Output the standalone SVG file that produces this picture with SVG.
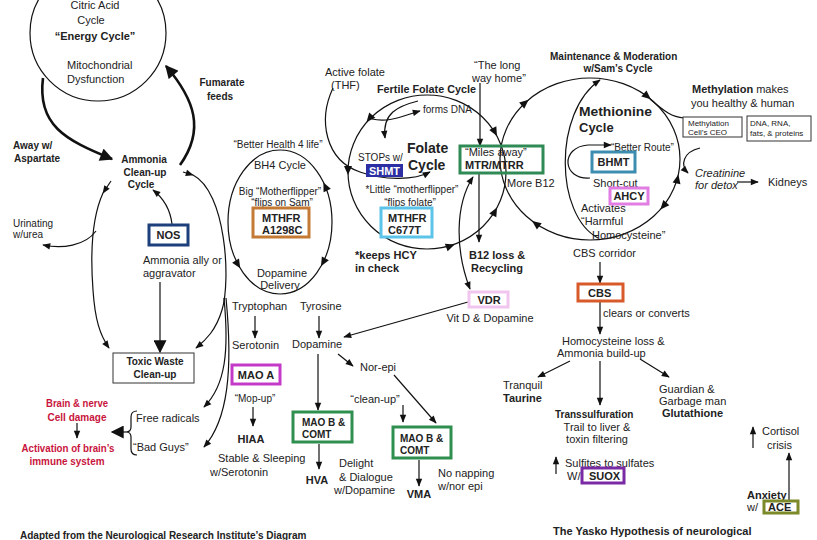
<svg xmlns="http://www.w3.org/2000/svg" width="817" height="540" viewBox="0 0 817 540">
<style>
text{font-family:"Liberation Sans",Arial,sans-serif;fill:#222;font-size:11px}
.b{font-weight:bold}
.s{font-size:10px}
.xs{font-size:8px}
.lg{font-size:14px;font-weight:bold}
.mg{font-size:13px;font-weight:bold}
.c{text-anchor:middle}
.i{font-style:italic}
.red{fill:#c8143c;font-weight:bold;font-size:10px}
.ln{fill:none;stroke:#111;stroke-width:1.2}
.th{fill:none;stroke:#111;stroke-width:2.6}
.bx{fill:#fff;stroke-width:3}
.tb{fill:#fff;stroke:#333;stroke-width:1}
</style>
<defs>
<marker id="a" viewBox="0 0 10 10" refX="9" refY="5" markerWidth="9" markerHeight="8" markerUnits="userSpaceOnUse" orient="auto-start-reverse"><path d="M0,1 L10,5 L0,9 Z" fill="#111"/></marker>
<marker id="A" viewBox="0 0 10 10" refX="9" refY="5" markerWidth="14" markerHeight="13" markerUnits="userSpaceOnUse" orient="auto"><path d="M0,0 L10,5 L0,10 Z" fill="#111"/></marker>
<path id="ah" d="M0,0 L-9,-4 L-9,4 Z" fill="#111"/>
</defs>

<g id="connectors">
<path class="th" d="M43,78 C37,125 65,140 112,159" marker-end="url(#A)"/>
<path class="th" d="M180,165 C205,130 195,100 166,66" marker-end="url(#A)"/>
<path class="ln" d="M111,181 L103,193" marker-end="url(#a)"/>
<path class="ln" d="M103,193 C93,215 90,250 93,290 C95,320 100,335 109,348" marker-end="url(#a)"/>
<path class="ln" d="M96,231 C85,246 62,249 43,245" marker-end="url(#a)"/>
<path class="ln" d="M183,172 L193,175" marker-end="url(#a)"/>
<path class="ln" d="M193,175 C226,192 231,280 222,310 C216,330 206,340 196,348" marker-end="url(#a)"/>
<path class="ln" d="M224,298 C229,350 226,385 204,407" marker-end="url(#a)"/>
<path class="ln" d="M226,298 C233,370 228,420 204,447" marker-end="url(#a)"/>
<path class="ln" d="M172,224 C170,208 162,197 153,190" marker-end="url(#a)"/>
<path class="ln" d="M160,282 L160,352" marker-end="url(#A)"/>
<path class="ln" d="M137,411 Q131,411 131,417 L131,427 Q131,432 126,432 Q131,432 131,437 L131,449 Q131,455 137,455"/>
<path class="ln" d="M126,432 L112,432" marker-end="url(#A)"/>
<path class="ln" d="M77,423 L77,438" marker-end="url(#a)"/>
<ellipse class="ln" cx="280" cy="222" rx="52" ry="72"/>
<use href="#ah" transform="translate(323.4,182.4) rotate(-115)"/>
<use href="#ah" transform="translate(321,266.3) rotate(119)"/>
<use href="#ah" transform="translate(240.2,268.3) rotate(59)"/>
<path class="ln" d="M255,316 L255,338" marker-end="url(#a)"/>
<path class="ln" d="M319,316 L319,338" marker-end="url(#a)"/>
<path class="ln" d="M253,407 L253,426" marker-end="url(#a)"/>
<path class="ln" d="M318,354 L318,410" marker-end="url(#a)"/>
<path class="ln" d="M338,354 L353,366" marker-end="url(#a)"/>
<path class="ln" d="M394,375 L436,423" marker-end="url(#a)"/>
<path class="ln" d="M403,405 L403,422" marker-end="url(#a)"/>
<path class="ln" d="M319,444 L319,469" marker-end="url(#a)"/>
<path class="ln" d="M419,460 L419,486" marker-end="url(#a)"/>
<ellipse class="ln" cx="427" cy="172" rx="79" ry="77"/>
<use href="#ah" transform="translate(366.5,122) rotate(130)"/>
<use href="#ah" transform="translate(348,175) rotate(90)"/>
<use href="#ah" transform="translate(454.7,244.5) rotate(-20)"/>
<use href="#ah" transform="translate(497,207.5) rotate(-62)"/>
<use href="#ah" transform="translate(497,136) rotate(62)"/>
<path class="ln" d="M333,88 C318,120 325,160 360,172 C385,181 415,180 430,172" marker-end="url(#a)"/>
<path class="ln" d="M372,119 C390,123 405,115 420,111" marker-end="url(#a)"/>
<path class="ln" d="M418,101 C398,106 382,113 385,138" marker-end="url(#a)"/>
<path class="ln" d="M480,83 L480,146" marker-end="url(#a)"/>
<path class="ln" d="M479,174 L479,242" marker-end="url(#a)"/>
<path class="ln" d="M470,289 C455,250 455,205 473,177" marker-start="url(#a)" marker-end="url(#a)"/>
<path class="ln" d="M468,302 L344,337" marker-end="url(#a)"/>
<ellipse class="ln" cx="590" cy="159" rx="90" ry="81"/>
<use href="#ah" transform="translate(528.6,99.8) rotate(-40)"/>
<use href="#ah" transform="translate(650.8,99.3) rotate(40)"/>
<use href="#ah" transform="translate(678.4,174.5) rotate(-78)"/>
<use href="#ah" transform="translate(660.4,209.4) rotate(131)"/>
<use href="#ah" transform="translate(532.1,221) rotate(-143)"/>
<path class="ln" d="M598,238 C555,215 553,112 600,80" marker-end="url(#a)"/>
<path class="ln" d="M590,178 C562,180 560,147 588,145 L611,145" marker-end="url(#a)"/>
<path class="ln" d="M650,99 C665,112 672,117 684,118"/>
<path class="ln" d="M700,148 C683,152 680,165 688,173" marker-end="url(#a)"/>
<path class="ln" d="M737,182 L758,182" marker-end="url(#a)"/>
<path class="ln" d="M600,262 L600,283" marker-end="url(#a)"/>
<path class="ln" d="M600,302 L600,334" marker-end="url(#a)"/>
<path class="ln" d="M570,361 L538,377" marker-end="url(#a)"/>
<path class="ln" d="M600,361 L600,405" marker-end="url(#a)"/>
<path class="ln" d="M640,359 L669,377" marker-end="url(#a)"/>
<path class="ln" d="M556,474 L556,457" marker-end="url(#a)"/>
<path class="ln" d="M753,448 L753,427" marker-end="url(#a)"/>
<path class="ln" d="M789,500 L789,453" marker-end="url(#a)"/>
</g>

<g id="energy-cycle">
<circle cx="98" cy="33" r="68" fill="none" stroke="#111" stroke-width="1.2"/>
<text class="c" x="95" y="9">Citric Acid</text>
<text class="c" x="91" y="24">Cycle</text>
<text class="c b" x="95" y="40" font-size="13">“Energy Cycle”</text>
<text x="67" y="69">Mitochondrial</text>
<text x="67" y="83">Dysfunction</text>
</g>
<g id="fumarate"><text class="c b s" x="222" y="86">Fumarate</text><text class="c b s" x="220" y="100">feeds</text></g>
<g id="aspartate"><text class="b s" x="13" y="149">Away w/</text><text class="b s" x="14" y="162">Aspartate</text></g>
<g id="ammonia-cycle">
<text class="c b s" x="144" y="163">Ammonia</text>
<text class="c b s" x="145" y="176">Clean-up</text>
<text class="c b s" x="141" y="188">Cycle</text>
</g>
<g id="urinating"><text class="s" x="13" y="227">Urinating</text><text class="s" x="13" y="238">w/urea</text></g>
<g id="nos"><rect class="bx" x="149" y="225" width="39" height="20" stroke="#1d3f7c"/><text class="c b" x="168.5" y="239">NOS</text></g>
<g id="ally"><text x="143" y="264">Ammonia ally or</text><text x="143" y="277">aggravator</text></g>
<g id="toxic-waste"><rect class="tb" x="113" y="353" width="81" height="30"/><text class="c b s" x="155" y="365">Toxic Waste</text><text class="c b s" x="155" y="378">Clean-up</text></g>
<g id="brain-damage">
<text class="red c" x="77" y="407" textLength="62" lengthAdjust="spacingAndGlyphs">Brain &amp; nerve</text>
<text class="red c" x="77" y="421" textLength="59" lengthAdjust="spacingAndGlyphs">Cell damage</text>
</g>
<g id="immune">
<text class="red c" x="68" y="452" textLength="93" lengthAdjust="spacingAndGlyphs">Activation of brain’s</text>
<text class="red c" x="67" y="465" textLength="75" lengthAdjust="spacingAndGlyphs">immune system</text>
</g>
<g id="free-radicals"><text x="136" y="422">Free radicals</text></g>
<g id="bad-guys"><text x="133" y="451">“Bad Guys”</text></g>

<g id="bh4-cycle">
<text class="c s" x="278" y="148">“Better Health 4 life”</text>
<text class="c" x="280" y="169">BH4 Cycle</text>
<text class="c s" x="280" y="195">Big “Motherflipper”</text>
<text class="c s" x="282" y="206">“flips on Sam”</text>
<text class="c" x="282" y="277">Dopamine</text>
<text class="c" x="280" y="289">Delivery</text>
</g>
<g id="mthfr-a1298c"><rect class="bx" x="253" y="208" width="56" height="29" stroke="#c47a35"/><text class="b" x="262" y="222">MTHFR</text><text class="b" x="262" y="234">A1298C</text></g>
<g id="tryptophan"><text x="232" y="310">Tryptophan</text></g>
<g id="tyrosine"><text x="300" y="310">Tyrosine</text></g>
<g id="serotonin"><text x="232" y="349">Serotonin</text></g>
<g id="dopamine"><text x="292" y="348">Dopamine</text></g>
<g id="mao-a"><rect class="bx" x="232" y="365" width="48" height="19" stroke="#c43ac8"/><text class="c b" x="256" y="379">MAO A</text></g>
<g id="mop-up"><text class="c s" x="255" y="402">“Mop-up”</text></g>
<g id="hiaa"><text class="c b" x="251" y="443">HIAA</text><text x="218" y="462">Stable &amp; Sleeping</text><text x="210" y="476">w/Serotonin</text></g>
<g id="nor-epi"><text x="360" y="371">Nor-epi</text></g>
<g id="clean-up"><text class="c" x="375" y="403">“clean-up”</text></g>
<g id="mao-b-1"><rect class="bx" x="293" y="412" width="59" height="30" stroke="#2f8f4f"/><text class="b s" x="302" y="426">MAO B &amp;</text><text class="b s" x="302" y="438">COMT</text></g>
<g id="hva"><text class="c b" x="317" y="484">HVA</text><text x="339" y="467">Delight</text><text x="339" y="481">&amp; Dialogue</text><text x="334" y="494">w/Dopamine</text></g>
<g id="mao-b-2"><rect class="bx" x="393" y="427" width="58" height="31" stroke="#2f8f4f"/><text class="b s" x="400" y="442">MAO B &amp;</text><text class="b s" x="400" y="454">COMT</text></g>
<g id="vma"><text class="c b" x="419" y="498">VMA</text><text x="438" y="477">No napping</text><text x="438" y="490">w/nor epi</text></g>

<g id="folate-cycle">
<text x="325" y="76">Active folate</text>
<text x="331" y="89">(THF)</text>
<text class="b s" x="377" y="93" textLength="99" lengthAdjust="spacingAndGlyphs">Fertile Folate Cycle</text>
<text class="s" x="423" y="113">forms DNA</text>
<text class="lg" x="407" y="153">Folate</text>
<text class="lg" x="408" y="170">Cycle</text>
<text class="s" x="358" y="161">STOPs w/</text>
<text class="c s" x="412" y="193">*Little “motherflipper”</text>
<text class="c s" x="410" y="206">“flips folate”</text>
<text class="b" x="355" y="259">*keeps HCY</text>
<text class="b" x="355" y="272">in check</text>
</g>
<g id="shmt"><rect x="366" y="164" width="37" height="13" fill="#2b2fa3"/><text class="c b" x="384.5" y="175" style="fill:#fff">SHMT</text></g>
<g id="mthfr-c677t"><rect class="bx" x="381" y="208" width="51" height="29" stroke="#5bc4e8"/><text class="b" x="388" y="222">MTHFR</text><text class="b" x="388" y="234">C677T</text></g>
<g id="long-way"><text x="474" y="69">“The long</text><text x="472" y="82">way home”</text></g>
<g id="mtr-mtrr"><rect x="460" y="146" width="83" height="27" stroke="#2f8a55" stroke-width="3" fill="none"/><text x="465" y="156" font-size="7">“Miles away”</text><text class="b" x="465" y="169" font-size="12">MTR/MTRR</text></g>
<g id="more-b12"><text x="507" y="187">More B12</text></g>
<g id="b12-loss"><text class="b" x="469" y="259">B12 loss &amp;</text><text class="b" x="471" y="272">Recycling</text></g>
<g id="vdr"><rect class="bx" x="469" y="292" width="39" height="15" stroke="#f0c6ee"/><text class="c b" x="489" y="304">VDR</text><text class="c" x="490" y="322">Vit D &amp; Dopamine</text></g>

<g id="methionine-cycle">
<text class="b s" x="550" y="60">Maintenance &amp; Moderation</text>
<text class="c b s" x="618" y="72">w/Sam’s Cycle</text>
<text class="mg" x="579" y="116" textLength="73" lengthAdjust="spacingAndGlyphs">Methionine</text>
<text class="mg" x="579" y="132">Cycle</text>
<text class="s" x="611" y="151">“Better Route”</text>
<text x="593" y="187">Short-cut</text>
<text x="581" y="212">Activates</text>
<text x="581" y="225">“Harmful</text>
<text x="592" y="239">Homocysteine”</text>
</g>
<g id="bhmt"><rect class="bx" x="592" y="152" width="43" height="20" stroke="#3c8db0"/><text class="c b" x="613.5" y="166">BHMT</text></g>
<g id="ahcy"><rect class="bx" x="610" y="188" width="38" height="16" stroke="#e27de3"/><text class="c b" x="629" y="200">AHCY</text></g>
<g id="methylation"><text x="692" y="93" font-size="11.5"><tspan class="b">Methylation</tspan> makes</text><text x="691" y="107" font-size="11.5">you healthy &amp; human</text></g>
<g id="cell-ceo"><rect class="tb" x="683" y="117" width="59" height="20"/><text class="xs" x="688" y="126">Methylation</text><text class="xs" x="688" y="135">Cell’s CEO</text></g>
<g id="dna-rna"><rect class="tb" x="747" y="116" width="64" height="25"/><text class="xs" x="750" y="126">DNA, RNA,</text><text class="xs" x="750" y="136">fats, &amp; proteins</text></g>
<g id="creatinine"><text class="i" x="695" y="177">Creatinine</text><text class="i" x="695" y="189">for detox</text></g>
<g id="kidneys"><text x="768" y="186">Kidneys</text></g>
<g id="cbs-corridor"><text x="573" y="257">CBS corridor</text></g>
<g id="cbs"><rect class="bx" x="578" y="284" width="45" height="17" stroke="#d85a2a"/><text class="b" x="588" y="297">CBS</text></g>
<g id="clears"><text x="603" y="317">clears or converts</text></g>
<g id="hcy-loss"><text x="562" y="345">Homocysteine loss &amp;</text><text x="557" y="357">Ammonia build-up</text></g>
<g id="taurine"><text x="503" y="389">Tranquil</text><text class="b" x="503" y="402">Taurine</text></g>
<g id="glutathione"><text x="659" y="393">Guardian &amp;</text><text x="659" y="405">Garbage man</text><text class="b" x="662" y="417">Glutathione</text></g>
<g id="transsulfuration"><text class="b s" x="555" y="418">Transsulfuration</text><text class="c" x="597" y="431">Trail to liver &amp;</text><text class="c" x="597" y="443">toxin filtering</text></g>
<g id="suox"><text x="565" y="467">Sulfites to sulfates</text><text x="567" y="480">W/</text><rect class="bx" x="582" y="468" width="42" height="15" stroke="#7a2aa4"/><text class="b" x="589" y="480">SUOX</text></g>
<g id="cortisol"><text x="762" y="435">Cortisol</text><text x="767" y="449">crisis</text></g>
<g id="ace"><text class="b" x="747" y="499">Anxiety</text><text x="747" y="511">w/</text><rect class="bx" x="764" y="501" width="34" height="12" stroke="#7d8a2a"/><text class="b" x="768" y="511">ACE</text></g>

<g id="footer">
<text class="b s" x="20" y="539">Adapted from the Neurological Research Institute’s Diagram</text>
<text class="b" x="553" y="535" font-size="12.5">The Yasko Hypothesis of neurological</text>
</g>
</svg>
